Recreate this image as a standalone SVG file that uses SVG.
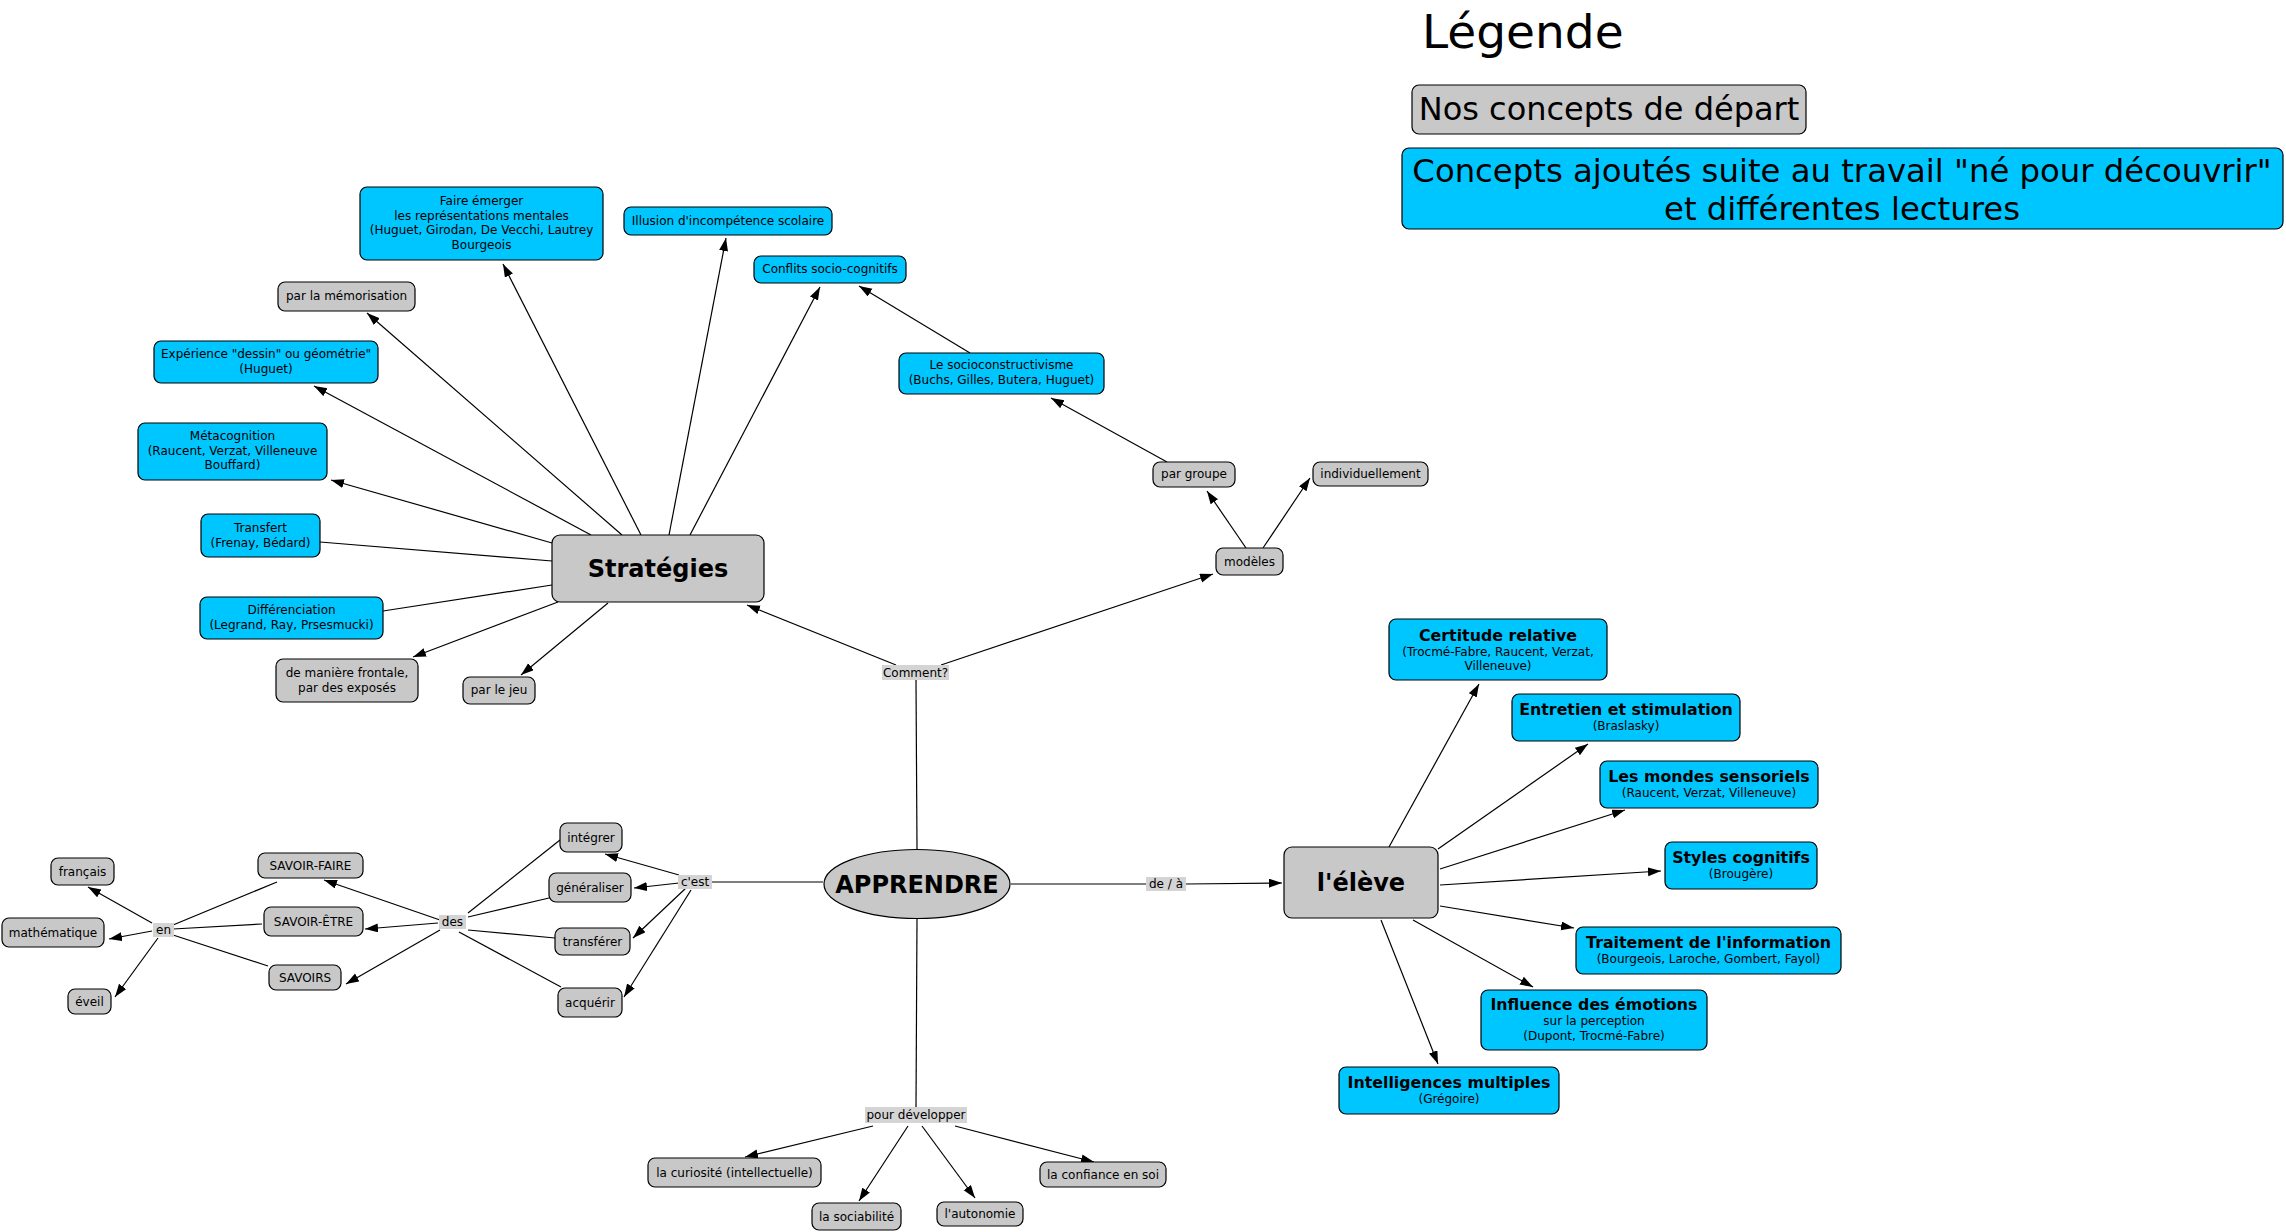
<svg xmlns="http://www.w3.org/2000/svg" width="2286" height="1232" viewBox="0 0 2286 1232">
<style>
text{font-family:"DejaVu Sans",Verdana,sans-serif;fill:#000}
.t{font-size:12px;text-anchor:middle}
.tb{font-size:15.8px;font-weight:bold;text-anchor:middle}
.big{font-size:24px;font-weight:bold;text-anchor:middle}
.g{fill:#c8c8c8;stroke:#000;stroke-width:1.2}
.b{fill:#00c6ff;stroke:#000;stroke-width:1.2}
.lb{fill:#d4d4d4}
.c line{stroke:#000;stroke-width:1.2}
.a{marker-end:url(#ah)}
</style>
<defs>
<marker id="ah" markerUnits="userSpaceOnUse" markerWidth="14" markerHeight="10" refX="13" refY="4.5" orient="auto">
<path d="M0,0 L13,4.5 L0,9 z" fill="#000"/>
</marker>
</defs>
<rect width="2286" height="1232" fill="#fff"/>

<g id="connectors" class="c">
<line class="a" x1="641" y1="535" x2="503" y2="264"/>
<line class="a" x1="669" y1="535" x2="726" y2="238"/>
<line class="a" x1="690" y1="535" x2="820" y2="287"/>
<line class="a" x1="622" y1="535" x2="367" y2="313"/>
<line class="a" x1="591" y1="535" x2="314" y2="386"/>
<line class="a" x1="552" y1="543" x2="331" y2="480"/>
<line x1="320" y1="542" x2="552" y2="561"/>
<line x1="383" y1="611" x2="552" y2="585"/>
<line class="a" x1="558" y1="602" x2="413" y2="657"/>
<line class="a" x1="608" y1="603" x2="521" y2="675"/>
<line class="a" x1="896" y1="665" x2="747" y2="605"/>
<line class="a" x1="941" y1="665" x2="1213" y2="574"/>
<line x1="917" y1="849" x2="916" y2="680"/>
<line class="a" x1="1246" y1="548" x2="1207" y2="491"/>
<line class="a" x1="1263" y1="548" x2="1310" y2="478"/>
<line class="a" x1="1167" y1="462" x2="1051" y2="398"/>
<line class="a" x1="970" y1="353" x2="859" y2="286"/>
<line x1="823" y1="882" x2="711" y2="882"/>
<line class="a" x1="679" y1="875" x2="605" y2="854"/>
<line class="a" x1="679" y1="883" x2="634" y2="888"/>
<line class="a" x1="686" y1="888" x2="633" y2="938"/>
<line class="a" x1="691" y1="890" x2="624" y2="997"/>
<line x1="560" y1="840" x2="468" y2="913"/>
<line x1="549" y1="898" x2="468" y2="917"/>
<line x1="555" y1="938" x2="468" y2="930"/>
<line x1="561" y1="987" x2="459" y2="932"/>
<line class="a" x1="440" y1="920" x2="324" y2="880"/>
<line class="a" x1="438" y1="923" x2="365" y2="929"/>
<line class="a" x1="440" y1="930" x2="346" y2="984"/>
<line x1="277" y1="882" x2="173" y2="925"/>
<line x1="262" y1="924" x2="173" y2="929"/>
<line x1="268" y1="966" x2="173" y2="935"/>
<line class="a" x1="152" y1="923" x2="88" y2="887"/>
<line class="a" x1="152" y1="931" x2="109" y2="939"/>
<line class="a" x1="158" y1="938" x2="115" y2="997"/>
<line x1="917" y1="919" x2="916" y2="1108"/>
<line class="a" x1="873" y1="1126" x2="745" y2="1157"/>
<line class="a" x1="908" y1="1126" x2="859" y2="1201"/>
<line class="a" x1="922" y1="1126" x2="975" y2="1198"/>
<line class="a" x1="955" y1="1126" x2="1094" y2="1162"/>
<line x1="1011" y1="884" x2="1146" y2="884"/>
<line class="a" x1="1186" y1="884" x2="1282" y2="883"/>
<line class="a" x1="1389" y1="847" x2="1479" y2="684"/>
<line class="a" x1="1438" y1="849" x2="1588" y2="744"/>
<line class="a" x1="1440" y1="869" x2="1625" y2="810"/>
<line class="a" x1="1440" y1="885" x2="1661" y2="871"/>
<line class="a" x1="1440" y1="906" x2="1574" y2="928"/>
<line class="a" x1="1413" y1="920" x2="1533" y2="987"/>
<line class="a" x1="1381" y1="920" x2="1438" y2="1064"/>
</g>

<g id="labels">
<g id="lbl-comment"><rect class="lb" x="882" y="665" width="67" height="15"/><text class="t" x="915.5" y="677">Comment?</text></g>
<g id="lbl-de-a"><rect class="lb" x="1146" y="877" width="40" height="14"/><text class="t" x="1166" y="888">de / à</text></g>
<g id="lbl-cest"><rect class="lb" x="678" y="875" width="34" height="14"/><text class="t" x="695" y="886">c'est</text></g>
<g id="lbl-des"><rect class="lb" x="439" y="915" width="27" height="14"/><text class="t" x="452.5" y="926">des</text></g>
<g id="lbl-en"><rect class="lb" x="153" y="923" width="21" height="14"/><text class="t" x="163.5" y="934">en</text></g>
<g id="lbl-pour"><rect class="lb" x="865" y="1107" width="102" height="16"/><text class="t" x="916" y="1119">pour développer</text></g>
</g>

<g id="legende">
<text x="1422" y="48" style="font-size:47px">Légende</text>
<g id="leg-depart"><rect class="g" x="1412" y="85" width="394" height="49" rx="7"/><text x="1609" y="120" style="font-size:32px;text-anchor:middle">Nos concepts de départ</text></g>
<g id="leg-ajoutes"><rect class="b" x="1402" y="148" width="881" height="81" rx="7"/><text x="1842" y="182" style="font-size:32.3px;text-anchor:middle">Concepts ajoutés suite au travail "né pour découvrir"</text><text x="1842" y="220" style="font-size:32.3px;text-anchor:middle">et différentes lectures</text></g>
</g>

<g id="n-faire"><rect class="b" x="360" y="187" width="243" height="73" rx="7"/><text class="t" x="481.5" y="205">Faire émerger</text><text class="t" x="481.5" y="220">les représentations mentales</text><text class="t" x="481.5" y="234">(Huguet, Girodan, De Vecchi, Lautrey</text><text class="t" x="481.5" y="249">Bourgeois</text></g>
<g id="n-illusion"><rect class="b" x="624" y="207" width="208" height="28" rx="7"/><text class="t" x="728" y="225">Illusion d'incompétence scolaire</text></g>
<g id="n-conflits"><rect class="b" x="754" y="256" width="152" height="27" rx="7"/><text class="t" x="830" y="273">Conflits socio-cognitifs</text></g>
<g id="n-memo"><rect class="g" x="278" y="282" width="137" height="29" rx="7"/><text class="t" x="346.5" y="300">par la mémorisation</text></g>
<g id="n-experience"><rect class="b" x="154" y="341" width="224" height="42" rx="7"/><text class="t" x="266" y="358">Expérience "dessin" ou géométrie"</text><text class="t" x="266" y="373">(Huguet)</text></g>
<g id="n-meta"><rect class="b" x="138" y="423" width="189" height="57" rx="7"/><text class="t" x="232.5" y="440">Métacognition</text><text class="t" x="232.5" y="455">(Raucent, Verzat, Villeneuve</text><text class="t" x="232.5" y="469">Bouffard)</text></g>
<g id="n-transfert"><rect class="b" x="201" y="514" width="119" height="43" rx="7"/><text class="t" x="260.5" y="532">Transfert</text><text class="t" x="260.5" y="547">(Frenay, Bédard)</text></g>
<g id="n-diff"><rect class="b" x="200" y="597" width="183" height="42" rx="7"/><text class="t" x="291.5" y="614">Différenciation</text><text class="t" x="291.5" y="629">(Legrand, Ray, Prsesmucki)</text></g>
<g id="n-frontale"><rect class="g" x="276" y="659" width="142" height="43" rx="7"/><text class="t" x="347" y="677">de manière frontale,</text><text class="t" x="347" y="692">par des exposés</text></g>
<g id="n-jeu"><rect class="g" x="463" y="677" width="72" height="27" rx="7"/><text class="t" x="499" y="694">par le jeu</text></g>
<g id="n-strategies"><rect class="g" x="552" y="535" width="212" height="67" rx="8"/><text class="big" x="658" y="577">Stratégies</text></g>
<g id="n-socio"><rect class="b" x="899" y="353" width="205" height="41" rx="7"/><text class="t" x="1001.5" y="369">Le socioconstructivisme</text><text class="t" x="1001.5" y="384">(Buchs, Gilles, Butera, Huguet)</text></g>
<g id="n-groupe"><rect class="g" x="1153" y="462" width="82" height="25" rx="7"/><text class="t" x="1194" y="478">par groupe</text></g>
<g id="n-indiv"><rect class="g" x="1313" y="462" width="115" height="24" rx="7"/><text class="t" x="1370.5" y="478">individuellement</text></g>
<g id="n-modeles"><rect class="g" x="1216" y="548" width="67" height="27" rx="7"/><text class="t" x="1249.5" y="566">modèles</text></g>
<g id="n-apprendre"><ellipse class="g" cx="917" cy="884" rx="93" ry="34.5"/><text x="917" y="893" style="font-size:24px;font-weight:bold;text-anchor:middle">APPRENDRE</text></g>
<g id="n-integrer"><rect class="g" x="560" y="823" width="62" height="29" rx="7"/><text class="t" x="591" y="842">intégrer</text></g>
<g id="n-generaliser"><rect class="g" x="549" y="873" width="82" height="29" rx="7"/><text class="t" x="590" y="892">généraliser</text></g>
<g id="n-transferer"><rect class="g" x="555" y="928" width="75" height="27" rx="7"/><text class="t" x="592.5" y="946">transférer</text></g>
<g id="n-acquerir"><rect class="g" x="558" y="988" width="64" height="29" rx="7"/><text class="t" x="590" y="1007">acquérir</text></g>
<g id="n-savoirfaire"><rect class="g" x="258" y="853" width="105" height="25" rx="7"/><text class="t" x="310.5" y="870">SAVOIR-FAIRE</text></g>
<g id="n-savoiretre"><rect class="g" x="264" y="907" width="99" height="29" rx="7"/><text class="t" x="313.5" y="926">SAVOIR-ÊTRE</text></g>
<g id="n-savoirs"><rect class="g" x="269" y="965" width="72" height="25" rx="7"/><text class="t" x="305" y="982">SAVOIRS</text></g>
<g id="n-francais"><rect class="g" x="51" y="858" width="63" height="27" rx="7"/><text class="t" x="82.5" y="876">français</text></g>
<g id="n-math"><rect class="g" x="2" y="918" width="102" height="29" rx="7"/><text class="t" x="53" y="937">mathématique</text></g>
<g id="n-eveil"><rect class="g" x="68" y="989" width="43" height="25" rx="7"/><text class="t" x="89.5" y="1006">éveil</text></g>
<g id="n-curiosite"><rect class="g" x="648" y="1158" width="173" height="29" rx="7"/><text class="t" x="734.5" y="1177">la curiosité (intellectuelle)</text></g>
<g id="n-sociabilite"><rect class="g" x="812" y="1203" width="89" height="27" rx="7"/><text class="t" x="856.5" y="1221">la sociabilité</text></g>
<g id="n-autonomie"><rect class="g" x="937" y="1202" width="86" height="24" rx="7"/><text class="t" x="980" y="1218">l'autonomie</text></g>
<g id="n-confiance"><rect class="g" x="1040" y="1162" width="126" height="25" rx="7"/><text class="t" x="1103" y="1179">la confiance en soi</text></g>
<g id="n-eleve"><rect class="g" x="1284" y="847" width="154" height="71" rx="8"/><text class="big" x="1361" y="891">l'élève</text></g>
<g id="n-certitude"><rect class="b" x="1389" y="619" width="218" height="61" rx="7"/><text class="tb" x="1498" y="641">Certitude relative</text><text class="t" x="1498" y="656">(Trocmé-Fabre, Raucent, Verzat,</text><text class="t" x="1498" y="670">Villeneuve)</text></g>
<g id="n-entretien"><rect class="b" x="1512" y="694" width="228" height="47" rx="7"/><text class="tb" x="1626" y="715">Entretien et stimulation</text><text class="t" x="1626" y="730">(Braslasky)</text></g>
<g id="n-mondes"><rect class="b" x="1600" y="761" width="218" height="47" rx="7"/><text class="tb" x="1709" y="782">Les mondes sensoriels</text><text class="t" x="1709" y="797">(Raucent, Verzat, Villeneuve)</text></g>
<g id="n-styles"><rect class="b" x="1665" y="842" width="152" height="47" rx="7"/><text class="tb" x="1741" y="863">Styles cognitifs</text><text class="t" x="1741" y="878">(Brougère)</text></g>
<g id="n-traitement"><rect class="b" x="1576" y="927" width="265" height="47" rx="7"/><text class="tb" x="1708.5" y="948">Traitement de l'information</text><text class="t" x="1708.5" y="963">(Bourgeois, Laroche, Gombert, Fayol)</text></g>
<g id="n-influence"><rect class="b" x="1481" y="990" width="226" height="60" rx="7"/><text class="tb" x="1594" y="1010">Influence des émotions</text><text class="t" x="1594" y="1025">sur la perception</text><text class="t" x="1594" y="1040">(Dupont, Trocmé-Fabre)</text></g>
<g id="n-intelligences"><rect class="b" x="1339" y="1067" width="220" height="47" rx="7"/><text class="tb" x="1449" y="1088">Intelligences multiples</text><text class="t" x="1449" y="1103">(Grégoire)</text></g>
</svg>
